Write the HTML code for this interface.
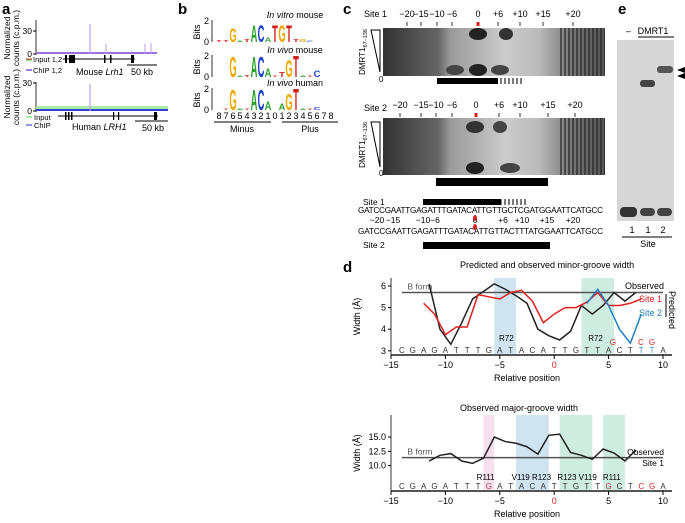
<!DOCTYPE html>
<html><head><meta charset="utf-8"><style>
body{margin:0;background:#fff;}
svg{display:block;font-family:"Liberation Sans",sans-serif;}
</style></head><body>
<svg id="fig" width="685" height="523" viewBox="0 0 685 523">
<defs>
<linearGradient id="gelL" x1="0" x2="1"><stop offset="0" stop-color="#333"/><stop offset="0.25" stop-color="#666"/><stop offset="0.3" stop-color="#999"/><stop offset="0.55" stop-color="#ccc"/><stop offset="0.7" stop-color="#bbb"/><stop offset="0.85" stop-color="#777"/><stop offset="1" stop-color="#555"/></linearGradient>
<pattern id="stripes" width="4" height="10" patternUnits="userSpaceOnUse"><rect width="2" height="10" fill="#222" opacity="0.6"/></pattern>
</defs>

<!-- Panel a -->
<g>
<text x="2" y="14" font-size="15" font-weight="bold">a</text>
<text transform="translate(10,38) rotate(-90)" font-size="8.5" text-anchor="middle">Normalized</text>
<text transform="translate(19,38) rotate(-90)" font-size="8.5" text-anchor="middle">counts (c.p.m.)</text>
<line x1="36" y1="20" x2="36" y2="55" stroke="#000" stroke-width="0.8"/>
<line x1="33" y1="31" x2="36" y2="31" stroke="#000"/><text x="32" y="34" font-size="8.5" text-anchor="end">30</text>
<line x1="33" y1="54" x2="36" y2="54" stroke="#000"/><text x="32" y="57" font-size="8.5" text-anchor="end">0</text>
<rect x="36" y="52" width="121" height="2" fill="#a070e0"/>
<line x1="90" y1="54" x2="90" y2="24" stroke="#b9a0ee" stroke-width="1.2"/>
<line x1="106" y1="54" x2="106" y2="44" stroke="#b9a0ee"/>
<line x1="145" y1="54" x2="145" y2="44" stroke="#b9a0ee"/>
<line x1="151" y1="54" x2="151" y2="43" stroke="#b9a0ee"/>
<line x1="26" y1="59" x2="32" y2="59" stroke="#e04020"/><line x1="26" y1="60" x2="32" y2="60" stroke="#40c040"/>
<text x="33" y="62" font-size="7.5">Input 1,2</text>
<line x1="26" y1="70" x2="32" y2="70" stroke="#a080f0" stroke-width="2"/>
<text x="33" y="73" font-size="7.5">ChIP 1,2</text>
<line x1="63" y1="59" x2="135" y2="59" stroke="#000"/>
<rect x="65" y="55" width="2" height="8"/><rect x="69" y="55" width="6" height="8"/><rect x="104" y="55" width="1.5" height="8"/><rect x="110" y="55" width="1.5" height="8"/><rect x="131" y="55" width="3" height="8"/>
<text x="76" y="75" font-size="9">Mouse <tspan font-style="italic">Lrh1</tspan></text>
<line x1="127" y1="65" x2="157" y2="65" stroke="#000"/><text x="131" y="75" font-size="9">50 kb</text>

<line x1="36" y1="82" x2="36" y2="112" stroke="#000" stroke-width="0.8"/>
<line x1="33" y1="83" x2="36" y2="83" stroke="#000"/><text x="32" y="86" font-size="8.5" text-anchor="end">30</text>
<line x1="33" y1="111" x2="36" y2="111" stroke="#000"/><text x="32" y="114" font-size="8.5" text-anchor="end">0</text>
<rect x="36" y="106" width="132" height="4" fill="#a8eea8"/>
<rect x="36" y="109" width="132" height="2" fill="#3040d0"/>
<line x1="90" y1="111" x2="90" y2="84" stroke="#b9a0ee" stroke-width="1.2"/>
<text transform="translate(10,97) rotate(-90)" font-size="8.5" text-anchor="middle">Normalized</text>
<text transform="translate(19,97) rotate(-90)" font-size="8.5" text-anchor="middle">counts (c.p.m.)</text>
<line x1="26" y1="117" x2="32" y2="117" stroke="#40e040"/><text x="34" y="120" font-size="7.5">Input</text>
<line x1="26" y1="125" x2="32" y2="125" stroke="#2030c0"/><text x="34" y="128" font-size="7.5">ChIP</text>
<line x1="58" y1="116" x2="158" y2="116" stroke="#000"/>
<rect x="65" y="112" width="1.5" height="8"/><rect x="68" y="112" width="1.5" height="8"/><rect x="71" y="112" width="1.5" height="8"/><rect x="113" y="112" width="1.2" height="8"/><rect x="118" y="112" width="1.2" height="8"/><rect x="154" y="112" width="3" height="8"/>
<text x="72" y="130" font-size="9">Human <tspan font-style="italic">LRH1</tspan></text>
<line x1="135" y1="121" x2="168" y2="121" stroke="#000"/><text x="142" y="131" font-size="9">50 kb</text>
</g>

<!-- Panel b -->
<g id="logos">
<text x="178" y="14" font-size="15" font-weight="bold">b</text>
</g>

<!-- Panel c -->
<g>
<text x="343" y="14" font-size="15" font-weight="bold">c</text>
<text x="364" y="17" font-size="9">Site 1</text>
<g font-size="9" text-anchor="middle" id="ticks1"></g>
<rect x="383" y="28" width="222" height="48" fill="url(#gelL)"/>
<rect x="560" y="28" width="45" height="48" fill="url(#stripes)"/>
<ellipse cx="478" cy="34" rx="9" ry="6" fill="#222"/><ellipse cx="506" cy="34" rx="7" ry="6" fill="#333"/><ellipse cx="478" cy="70" rx="9" ry="6" fill="#222"/><ellipse cx="455" cy="70" rx="9" ry="5" fill="#444"/><ellipse cx="500" cy="70" rx="9" ry="5" fill="#444"/>
<rect x="437" y="78" width="61" height="6" fill="#000"/><rect x="498" y="78" width="24" height="6" fill="url(#stripes)"/>
<text transform="translate(365,52) rotate(-90)" font-size="8" text-anchor="middle">DMRT1<tspan font-size="5.5" dy="2">67–136</tspan></text>
<polygon points="371,30 380,30 380,72" fill="none" stroke="#000"/>
<text x="379" y="82" font-size="8">0</text>
<text x="364" y="111" font-size="9">Site 2</text>
<rect x="383" y="118" width="222" height="57" fill="url(#gelL)"/>
<rect x="560" y="118" width="45" height="57" fill="url(#stripes)"/>
<ellipse cx="475" cy="127" rx="9" ry="6" fill="#333"/><ellipse cx="500" cy="127" rx="7" ry="6" fill="#444"/><ellipse cx="475" cy="168" rx="9" ry="6" fill="#222"/><ellipse cx="510" cy="168" rx="10" ry="5" fill="#444"/>
<rect x="436" y="178" width="112" height="8" fill="#000"/>
<text transform="translate(365,145) rotate(-90)" font-size="8" text-anchor="middle">DMRT1<tspan font-size="5.5" dy="2">67–136</tspan></text>
<polygon points="371,122 380,122 380,167" fill="none" stroke="#000"/>
<text x="379" y="176" font-size="8">0</text>
<text x="363" y="205" font-size="8.5">Site 1</text>
<rect x="423" y="199" width="78" height="6" fill="#000"/><rect x="501" y="199" width="25" height="6" fill="url(#stripes)"/>
<text x="358" y="213" font-size="8.2" textLength="245">GATCCGAATTGAGATTTGATACATTGTTGCTCGATGGAATTCATGCC</text>
<text x="358" y="234" font-size="8.2" textLength="245">GATCCGAATTGAGATTTGATACATTGTTACTTTATGGAATTCATGCC</text>
<g font-size="8.5" text-anchor="middle" id="seqTicks"></g>
<ellipse cx="475" cy="218" rx="2" ry="3" fill="#e02020"/><ellipse cx="475" cy="227" rx="2" ry="3" fill="#e02020"/>
<text x="363" y="248" font-size="8.5">Site 2</text>
<rect x="423" y="242" width="127" height="7" fill="#000"/>
</g>

<!-- Panel e -->
<g>
<text x="618" y="14" font-size="15" font-weight="bold">e</text>
<text x="626" y="34" font-size="9">–</text>
<text x="653" y="34" font-size="9" text-anchor="middle">DMRT1</text>
<line x1="638" y1="37" x2="674" y2="37" stroke="#000"/>
<rect x="617" y="40" width="57" height="181" fill="#d6d6d6"/>
<rect x="640" y="80" width="15" height="7" rx="3" fill="#444"/><rect x="657" y="66" width="16" height="7" rx="3" fill="#555"/>
<rect x="620" y="207" width="17" height="10" rx="4" fill="#333"/><rect x="640" y="208" width="15" height="8" rx="4" fill="#444"/><rect x="657" y="208" width="15" height="8" rx="4" fill="#444"/>
<polygon points="685,67 677,70 685,73"/><polygon points="685,73 677,76 685,79"/>
<text x="632" y="233" font-size="9" text-anchor="middle">1</text><text x="648" y="233" font-size="9" text-anchor="middle">1</text><text x="663" y="233" font-size="9" text-anchor="middle">2</text>
<line x1="622" y1="237" x2="672" y2="237" stroke="#000"/>
<text x="648" y="247" font-size="9" text-anchor="middle">Site</text>
</g>

<!-- Panel d -->
<g>
<text x="343" y="272" font-size="15" font-weight="bold">d</text>
<text x="460" y="268" font-size="9">Predicted and observed minor-groove width</text>
<text x="460" y="411" font-size="9">Observed major-groove width</text>
<g id="minor"></g>
<g id="major"></g>
</g>
</svg>
<script>
const NS='http://www.w3.org/2000/svg';
function mk(parent,tag,attrs,txt){const e=document.createElementNS(NS,tag);for(const k in attrs)e.setAttribute(k,attrs[k]);if(txt!==undefined)e.textContent=txt;parent.appendChild(e);return e;}

// ---- Minor groove data ----
const minorObsX=[-11.5,-10.5,-9.5,-8.5,-7.5,-6.5,-5.5,-4.5,-3.5,-2.5,-1.5,-0.5,0.5,1.5,2.5,3.5,4.5,5.5,6.5,7.5];
const minorObsY=[6.1,4.0,3.3,4.3,5.4,5.75,6.1,5.85,5.55,5.2,4.0,3.7,3.5,3.9,5.1,4.7,5.1,5.7,5.3,5.7];
const minorSite1X=[-12,-11,-10,-9,-8,-7,-6,-5,-4,-3,-2,-1,0,1,2,3,4,5,6,7,8];
const minorSite1Y=[5.2,4.7,3.75,4.1,4.1,5.6,5.5,5.4,5.7,5.8,5.3,4.3,4.7,5.0,5.0,5.25,5.7,5.1,5.1,5.2,5.4];
const minorSite2X=[3,4,5,6,7,8];
const minorSite2Y=[5.2,5.85,5.1,4.0,3.35,4.7];
const minorBForm=5.7;
const minorTicks=[3,4,5,6];
// ---- Major groove data ----
const majorObsX=[-11.5,-10.5,-9.5,-8.5,-7.5,-6.5,-5.5,-4.5,-3.5,-2.5,-1.5,-0.5,0.5,1.5,2.5,3.5,4.5,5.5,6.5,7.5];
const majorObsY=[10.8,11.8,12.1,10.8,10.4,11.3,15.0,14.2,13.9,13.3,12.0,15.3,15.5,12.3,11.8,11.1,12.9,12.2,10.8,12.7];
const majorBForm=11.4;
const majorTicks=[10.0,12.5,15.0];
const xTicks=[-15,-10,-5,0,5,10];
const seq='CGAGATTTGATACATTGTTACTTTA'.split('');
const seqMajor='CGAGATTTGATACATTGTTGCTCGA'.split('');

const xs=v=>554.2+v*10.88;
function chart(g,y0px,yPer,y0val,axisY,opts){
  const ys=v=>y0px-(v-y0val)*yPer;
  opts.shade.forEach(s=>{const r=mk(g,'rect',{x:xs(s[0]),y:opts.top,width:xs(s[1])-xs(s[0]),height:axisY-opts.top,fill:s[2],opacity:0.55});
    
    });
  mk(g,'line',{x1:391,y1:opts.top,x2:391,y2:axisY,stroke:'#000','stroke-width':0.8});
  const ax=mk(g,'line',{x1:391,y1:axisY,x2:672,y2:axisY,stroke:'#555','stroke-width':2});
  
  
  xTicks.forEach(t=>{mk(g,'line',{x1:xs(t),y1:axisY,x2:xs(t),y2:axisY+4,stroke:'#000'});
    mk(g,'text',{x:xs(t),y:axisY+13,'font-size':9,'text-anchor':'middle',fill:t===0?'#e02020':'#000'},t<0?'\u2212'+(-t):String(t));});
  mk(g,'text',{x:xs(-2.5),y:axisY+26,'font-size':9,'text-anchor':'middle'},'Relative position');
  opts.yTicks.forEach(t=>{mk(g,'line',{x1:388,y1:ys(t),x2:391,y2:ys(t),stroke:'#000'});
    mk(g,'text',{x:386,y:ys(t)+3,'font-size':9,'text-anchor':'end'},opts.fmt(t));});
  const yl=mk(g,'text',{transform:`translate(360,${(opts.top+axisY)/2}) rotate(-90)`,'font-size':9,'text-anchor':'middle'},'Width (Å)');
  
  
  const bf=mk(g,'line',{x1:xs(-14),y1:ys(opts.bform),x2:xs(10),y2:ys(opts.bform),stroke:'#555','stroke-width':1.5});
  
  
  mk(g,'text',{x:xs(-13.5),y:ys(opts.bform)-3,'font-size':8.5,fill:'#555'},'B form');
  opts.seq.forEach((c,i)=>{const p=i-14;mk(g,'text',{x:xs(p),y:axisY-2,'font-size':8,'text-anchor':'middle',fill:opts.seqCol(p)},c);});
  opts.series.forEach(s=>{const pl=mk(g,'polyline',{points:s.x.map((x,i)=>xs(x)+','+ys(s.y[i])).join(' '),fill:'none',stroke:s.c,'stroke-width':1.5});
    
    });
  return ys;
}
const gm=document.getElementById('minor');
chart(gm,286,21.6,6,355,{top:278,yTicks:minorTicks,fmt:t=>String(t),bform:minorBForm,seq:seq,
  seqCol:p=>(p===8||p===9)?'#3a90d0':'#333',
  shade:[[-5.5,-3.5,'#a8cce4'],[2.5,5.5,'#a8dcc8']],
  series:[{x:minorObsX,y:minorObsY,c:'#222',n:'observed-minor-line'},{x:minorSite1X,y:minorSite1Y,c:'#e02020',n:'site1-predicted-line'},{x:minorSite2X,y:minorSite2Y,c:'#2080c0',n:'site2-predicted-line'}]});
mk(gm,'text',{x:xs(-4.4),y:341,'font-size':8,'text-anchor':'middle'},'R72');
mk(gm,'text',{x:xs(3.8),y:341,'font-size':8,'text-anchor':'middle'},'R72');
mk(gm,'text',{x:xs(5.1),y:345,'font-size':8,fill:'#c03020'},'G');
mk(gm,'text',{x:xs(7.7),y:345,'font-size':8,fill:'#e02020'},'C');
mk(gm,'text',{x:xs(8.7),y:345,'font-size':8,fill:'#e02020'},'G');
mk(gm,'text',{x:664,y:289,'font-size':9,'text-anchor':'end'},'Observed');
mk(gm,'text',{x:662,y:302,'font-size':9,'text-anchor':'end',fill:'#e02020'},'Site 1');
mk(gm,'text',{x:662,y:316,'font-size':9,'text-anchor':'end',fill:'#2080c0'},'Site 2');
mk(gm,'line',{x1:666,y1:294,x2:666,y2:317,stroke:'#000'});
mk(gm,'text',{transform:'translate(669,291) rotate(90)','font-size':9},'Predicted');

const gj=document.getElementById('major');
chart(gj,437,5.72,15,491,{top:415,yTicks:majorTicks,fmt:t=>t.toFixed(1),bform:majorBForm,seq:seqMajor,
  seqCol:p=>(p===-6||p===5)?'#b04040':(p===8||p===9)?'#e02020':'#333',
  shade:[[-6.5,-5.5,'#f0c4e0'],[-3.5,-0.5,'#a8cce4'],[0.5,3.5,'#a8dcc8'],[4.5,6.5,'#a8dcc8']],
  series:[{x:majorObsX,y:majorObsY,c:'#222',n:'observed-major-line'}]});
[['R111',-6.3],['V119 R123',-2.1],['R123 V119',2.1],['R111',5.3]].forEach(a=>mk(gj,'text',{x:xs(a[1]),y:480,'font-size':8,'text-anchor':'middle'},a[0]));
mk(gj,'text',{x:664,y:455,'font-size':8.5,'text-anchor':'end'},'Observed');
mk(gj,'text',{x:664,y:466,'font-size':8.5,'text-anchor':'end'},'Site 1');

// ---- Footprint ticks ----
const fpLabels=['−20','−15','−10','−6','0','+6','+10','+15','+20'];
const fpX1=[407,421,437,452,478,498,520,543,573];
const fpX2=[400,421,436,452,476,499,520,548,575];
const seqX=[377,393,423,435,475,503,522,547,573];
const g1=document.getElementById('ticks1');
[[17,25,fpX1],[108,116,fpX2]].forEach(r=>{r[2].forEach((x,i)=>{mk(g1,'text',{x:x,y:r[0]},fpLabels[i]);
  mk(g1,'line',{x1:x,y1:r[1]-3,x2:x,y2:r[1]+1,stroke:i===4?'#e02020':'#000','stroke-width':i===4?3:0.8});});});
const sg=document.getElementById('seqTicks');
seqX.forEach((x,i)=>mk(sg,'text',{x:x,y:223},fpLabels[i]));

// ---- Logos ----
const logoPos=[-8,-7,-6,-5,-4,-3,-2,-1,0,1,2,3,4,5,6,7,8];
const logo1=['T','T','G','A','T','A','C','A','T','G','T','T','G','C','','',''];
const logo1H=[0.2,0.2,1.3,0.1,0.3,1.6,1.6,0.4,1.6,1.6,1.6,0.3,0.3,0.1,0,0,0];
const logo2=['','','G','A','T','A','C','A','T','T','G','T','A','T','C','',''];
const logo2H=[0,0,1.9,0.1,0.2,1.9,1.9,0.8,0.1,0.5,1.6,2,0.1,0.1,0.6,0,0];
const logo3=['','T','G','A','T','A','C','A','','A','G','T','A','T','C','',''];
const logo3H=[0,0.1,1.9,0.1,0.1,1.9,1.9,0.8,0,0.6,1.5,2,0.1,0.1,0.3,0,0];
const colr={A:'#2ca02c',C:'#2040c8',G:'#f0a800',T:'#d02020'};
const lg=document.getElementById('logos');
const lx=i=>219+i*7;
[[logo1,logo1H,42,'In vitro','mouse'],[logo2,logo2H,77,'In vivo','mouse'],[logo3,logo3H,110,'In vivo','human']].forEach(r=>{
  const base=r[2],top=base-22;
  mk(lg,'line',{x1:212,y1:top,x2:212,y2:base,stroke:'#000','stroke-width':0.8});
  mk(lg,'text',{x:209,y:top+4,'font-size':9,'text-anchor':'end'},'2');
  mk(lg,'text',{x:209,y:base+3,'font-size':9,'text-anchor':'end'},'0');
  mk(lg,'text',{transform:`translate(200,${base-10}) rotate(-90)`,'font-size':9,'text-anchor':'middle'},'Bits');
  const t=mk(lg,'text',{x:295,y:top-2,'font-size':9,'text-anchor':'middle'});
  mk(t,'tspan',{'font-style':'italic'},r[3]+' ');mk(t,'tspan',{},r[4]);
  r[0].forEach((c,i)=>{if(!c||r[1][i]<=0)return;const h=r[1][i]*11;
    const e=mk(lg,'text',{x:0,y:0,'font-size':11,'font-weight':'bold','text-anchor':'middle',fill:colr[c],
      transform:`translate(${lx(i)},${base}) scale(0.85,${h/8})`},c);
    
    });
});
logoPos.forEach((p,i)=>mk(lg,'text',{x:lx(i),y:119,'font-size':9,'text-anchor':'middle'},String(Math.abs(p))));
mk(lg,'line',{x1:214,y1:122,x2:271,y2:122,stroke:'#000'});
mk(lg,'line',{x1:282,y1:122,x2:338,y2:122,stroke:'#000'});
mk(lg,'text',{x:242,y:132,'font-size':9,'text-anchor':'middle'},'Minus');
mk(lg,'text',{x:310,y:132,'font-size':9,'text-anchor':'middle'},'Plus');
</script>
</body></html>
